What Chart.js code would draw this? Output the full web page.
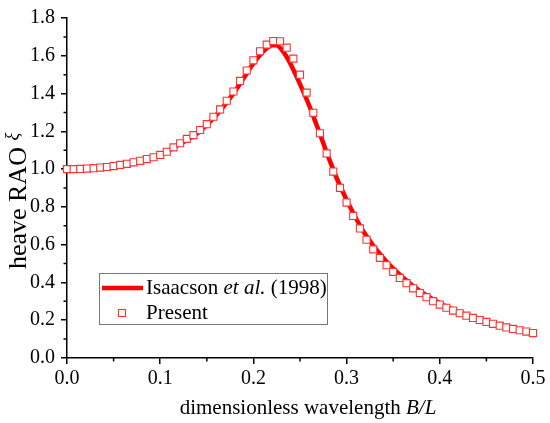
<!DOCTYPE html>
<html>
<head>
<meta charset="utf-8">
<script src="https://cdn.jsdelivr.net/npm/chart.js@4/dist/chart.umd.min.js"></script>
<style>
  html, body { margin: 0; padding: 0; background: #fff; }
  #wrap { width: 550px; height: 423px; }
</style>
</head>
<body>
<div id="wrap"><canvas id="graficoRAO"></canvas></div>
<script>
  // Present (squares)
  const presentX = [0, 0.0071, 0.0143, 0.0214, 0.0286, 0.0357, 0.0429, 0.05, 0.0571, 0.0643,
    0.0714, 0.0786, 0.0857, 0.0929, 0.1, 0.1071, 0.1143, 0.1214, 0.1286, 0.1357,
    0.1429, 0.15, 0.1571, 0.1643, 0.1714, 0.1786, 0.1857, 0.1929, 0.2, 0.2071,
    0.2143, 0.2214, 0.2286, 0.2357, 0.2429, 0.25, 0.2571, 0.2643, 0.2714, 0.2786,
    0.2857, 0.2929, 0.3, 0.3071, 0.3143, 0.3214, 0.3286, 0.3357, 0.3429, 0.35,
    0.3571, 0.3643, 0.3714, 0.3786, 0.3857, 0.3929, 0.4, 0.4071, 0.4143, 0.4214,
    0.4286, 0.4357, 0.4429, 0.45, 0.4571, 0.4643, 0.4714, 0.4786, 0.4857, 0.4929, 0.5];
  const presentY = [1.000, 1.000, 1.001, 1.003, 1.005, 1.008, 1.011, 1.016, 1.022, 1.028,
    1.036, 1.044, 1.053, 1.063, 1.075, 1.092, 1.115, 1.137, 1.160, 1.180,
    1.207, 1.238, 1.277, 1.316, 1.362, 1.411, 1.467, 1.522, 1.576, 1.624,
    1.659, 1.678, 1.677, 1.643, 1.585, 1.500, 1.405, 1.298, 1.190, 1.083,
    0.987, 0.901, 0.823, 0.752, 0.686, 0.626, 0.575, 0.530, 0.491, 0.456,
    0.424, 0.396, 0.369, 0.344, 0.322, 0.301, 0.283, 0.266, 0.251, 0.237,
    0.224, 0.212, 0.201, 0.191, 0.181, 0.171, 0.162, 0.154, 0.147, 0.140, 0.132];

  // Isaacson et al. (1998), solid line
  const isaacsonX = [0, 0.02, 0.04, 0.06, 0.08, 0.1, 0.12, 0.14, 0.16, 0.18, 0.19, 0.2,
    0.21, 0.215, 0.22, 0.225, 0.23, 0.235, 0.24, 0.25, 0.26, 0.27, 0.28, 0.29, 0.3,
    0.31, 0.32, 0.34, 0.36, 0.38, 0.4, 0.42, 0.44, 0.46, 0.48, 0.5];
  const isaacsonY = [1.0, 1.003, 1.010, 1.024, 1.045, 1.075, 1.130, 1.190, 1.285, 1.410, 1.485, 1.560,
    1.620, 1.643, 1.656, 1.655, 1.635, 1.600, 1.555, 1.450, 1.335, 1.205, 1.070, 0.945, 0.838,
    0.740, 0.655, 0.525, 0.428, 0.350, 0.290, 0.243, 0.205, 0.176, 0.152, 0.132];

  const xTickValues = [0, 0.1, 0.2, 0.3, 0.4, 0.5];
  const xMinorValues = [0.05, 0.15, 0.25, 0.35, 0.45];
  const yTickValues = [0, 0.2, 0.4, 0.6, 0.8, 1.0, 1.2, 1.4, 1.6, 1.8];
  const yMinorValues = [0.1, 0.3, 0.5, 0.7, 0.9, 1.1, 1.3, 1.5, 1.7];

  const serif = '"Liberation Serif", "DejaVu Serif", serif';

  // draws a row of text pieces (some italic) starting at x
  function drawRuns(ctx, runs, x, y, align) {
    let total = 0;
    runs.forEach(r => { ctx.font = r.font; total += ctx.measureText(r.text).width; });
    let cx = align === 'center' ? x - total / 2 : x;
    runs.forEach(r => {
      ctx.font = r.font;
      ctx.fillText(r.text, cx, y + (r.dy || 0));
      cx += ctx.measureText(r.text).width;
    });
  }

  const extras = {
    id: 'extras',
    afterDraw(chart) {
      const { ctx, chartArea } = chart;
      const xs = chart.scales.x, ys = chart.scales.y;
      ctx.save();

      // minor ticks
      ctx.strokeStyle = '#000';
      ctx.lineWidth = 1.5;
      ctx.beginPath();
      xMinorValues.forEach(v => {
        const px = xs.getPixelForValue(v);
        ctx.moveTo(px, chartArea.bottom);
        ctx.lineTo(px, chartArea.bottom + 3.5);
      });
      yMinorValues.forEach(v => {
        const py = ys.getPixelForValue(v);
        ctx.moveTo(chartArea.left, py);
        ctx.lineTo(chartArea.left - 3.5, py);
      });
      ctx.stroke();

      // axis titles
      ctx.fillStyle = '#000';
      ctx.textBaseline = 'alphabetic';
      const midX = (chartArea.left + chartArea.right) / 2 + 8;
      drawRuns(ctx, [
        { text: 'dimensionless wavelength ', font: '21px ' + serif },
        { text: 'B/L', font: 'italic 21px ' + serif }
      ], midX, 414, 'center');

      ctx.save();
      ctx.translate(26, 201);
      ctx.rotate(-Math.PI / 2);
      drawRuns(ctx, [
        { text: 'heave RAO ', font: '26px ' + serif },
        { text: '\u03BE', font: 'italic 18px ' + serif, dy: -8 }
      ], 0, 0, 'center');
      ctx.restore();

      // legend
      const line = chart.data.datasets[1];
      const pts = chart.data.datasets[0];
      ctx.strokeStyle = '#777';
      ctx.lineWidth = 1;
      ctx.strokeRect(99.5, 273.5, 228, 51);

      ctx.strokeStyle = line.borderColor;
      ctx.lineWidth = line.borderWidth;
      ctx.beginPath();
      ctx.moveTo(102, 288);
      ctx.lineTo(143, 288);
      ctx.stroke();

      ctx.fillStyle = pts.backgroundColor;
      ctx.strokeStyle = pts.borderColor;
      ctx.lineWidth = pts.borderWidth;
      ctx.fillRect(118.5, 309.5, 7, 7);
      ctx.strokeRect(118.5, 309.5, 7, 7);

      ctx.fillStyle = '#000';
      ctx.textBaseline = 'middle';
      drawRuns(ctx, [
        { text: 'Isaacson ', font: '21px ' + serif },
        { text: 'et al.', font: 'italic 21px ' + serif },
        { text: ' (1998)', font: '21px ' + serif }
      ], 146, 288, 'left');
      drawRuns(ctx, [{ text: 'Present', font: '21px ' + serif }], 146, 313, 'left');

      ctx.restore();
    }
  };

  const ctx = document.getElementById('graficoRAO').getContext('2d');

  const grafico = new Chart(ctx, {
    type: 'line',
    data: {
      datasets: [{
        label: 'Present',
        data: presentX.map((x, i) => ({ x: x, y: presentY[i] })),
        showLine: false,
        pointStyle: 'rect',
        pointRadius: 5,
        pointHoverRadius: 5,
        borderColor: '#ff3232',
        backgroundColor: '#fff',
        borderWidth: 1.1,
        clip: false,
        order: 0
      }, {
        label: 'Isaacson et al. (1998)',
        data: isaacsonX.map((x, i) => ({ x: x, y: isaacsonY[i] })),
        borderColor: '#ff0000',
        borderWidth: 4.5,
        pointRadius: 0,
        fill: false,
        cubicInterpolationMode: 'monotone',
        order: 1
      }]
    },
    options: {
      responsive: true,
      maintainAspectRatio: false,
      animation: false,
      layout: { padding: { top: 12, right: 17, left: 0, bottom: 0 } },
      plugins: {
        legend: { display: false },
        tooltip: { enabled: false }
      },
      scales: {
        x: {
          type: 'linear',
          min: 0,
          max: 0.5,
          afterBuildTicks: s => { s.ticks = xTickValues.map(v => ({ value: v })); },
          afterFit: s => { s.height = 65; },
          ticks: {
            font: { family: serif, size: 20 },
            color: '#000',
            padding: 3,
            maxRotation: 0,
            autoSkip: false,
            callback: v => v.toFixed(1)
          },
          grid: { drawOnChartArea: false, drawTicks: true, tickLength: 6, color: '#000', lineWidth: 1.5 },
          border: { display: true, color: '#000', width: 1.5 }
        },
        y: {
          min: 0,
          max: 1.8,
          afterBuildTicks: s => { s.ticks = yTickValues.map(v => ({ value: v })); },
          afterFit: s => { s.width = 67; },
          ticks: {
            font: { family: serif, size: 20 },
            color: '#000',
            padding: 6,
            autoSkip: false,
            callback: v => v.toFixed(1)
          },
          grid: { drawOnChartArea: false, drawTicks: true, tickLength: 6, color: '#000', lineWidth: 1.5 },
          border: { display: true, color: '#000', width: 1.5 }
        }
      }
    },
    plugins: [extras]
  });
</script>
</body>
</html>
